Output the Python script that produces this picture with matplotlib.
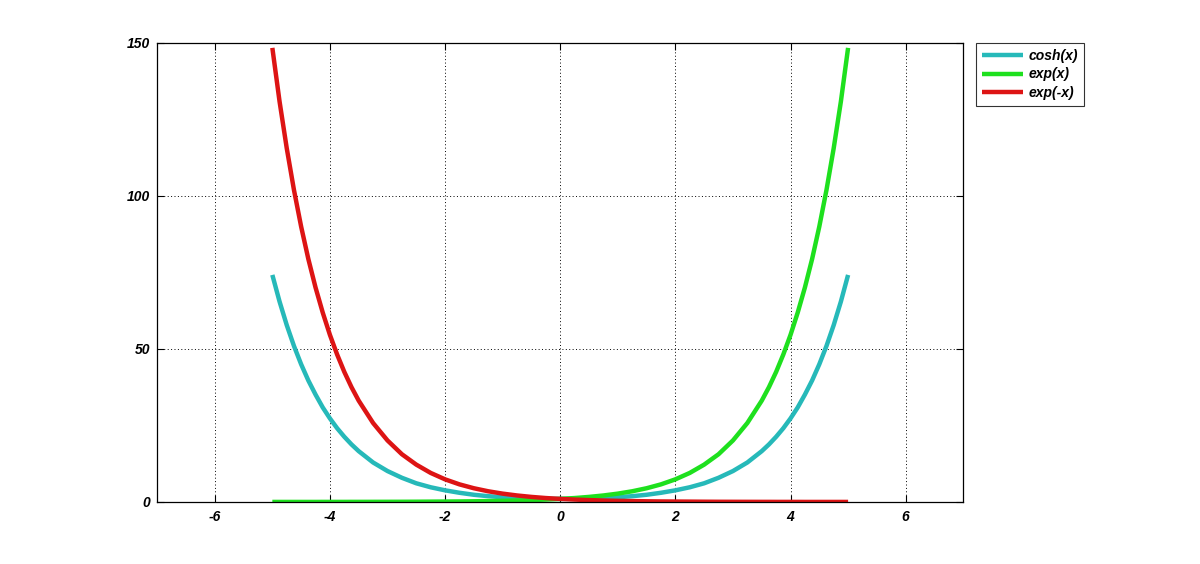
import matplotlib
matplotlib.use("Agg")
import matplotlib.pyplot as plt

# ------------------------------------------------------------- dane
x_vals = [-5.0, -4.875, -4.75, -4.625, -4.5, -4.375, -4.25, -4.125, -4.0, -3.875, -3.75,
          -3.625, -3.5, -3.25, -3.0, -2.75, -2.5,
          -2.25, -2.0, -1.75, -1.5, -1.25, -1.0, -0.75, -0.5, -0.25, 0.0,
          0.25, 0.5, 0.75, 1.0, 1.25, 1.5, 1.75, 2.0, 2.25, 2.5,
          2.75, 3.0, 3.25, 3.5, 3.625, 3.75, 3.875, 4.0, 4.125, 4.25,
          4.375, 4.5, 4.625, 4.75, 4.875, 5.0]

cosh_vals = [74.2, 65.5, 57.8, 51.0, 45.0, 39.7, 35.1, 30.9, 27.3, 24.1, 21.3,
             18.8, 16.6, 12.9, 10.1, 7.9, 6.1,
             4.8, 3.8, 3.0, 2.35, 1.89, 1.54, 1.29, 1.13, 1.03, 1.0,
             1.03, 1.13, 1.29, 1.54, 1.89, 2.35, 3.0, 3.8, 4.8, 6.1,
             7.9, 10.1, 12.9, 16.6, 18.8, 21.3, 24.1, 27.3, 30.9, 35.1,
             39.7, 45.0, 51.0, 57.8, 65.5, 74.2]

exp_vals = [0.01, 0.01, 0.01, 0.01, 0.01, 0.01, 0.01, 0.02, 0.02, 0.02, 0.02,
            0.03, 0.03, 0.04, 0.05, 0.06, 0.08,
            0.11, 0.14, 0.17, 0.22, 0.29, 0.37, 0.47, 0.61, 0.78, 1.0,
            1.28, 1.65, 2.12, 2.72, 3.49, 4.48, 5.75, 7.39, 9.49, 12.2,
            15.6, 20.1, 25.8, 33.1, 37.5, 42.5, 48.2, 54.6, 61.9, 70.1,
            79.4, 90.0, 102.0, 115.6, 130.9, 148.4]

expneg_vals = [148.4, 130.9, 115.6, 102.0, 90.0, 79.4, 70.1, 61.9, 54.6, 48.2, 42.5,
               37.5, 33.1, 25.8, 20.1, 15.6, 12.2,
               9.49, 7.39, 5.75, 4.48, 3.49, 2.72, 2.12, 1.65, 1.28, 1.0,
               0.78, 0.61, 0.47, 0.37, 0.29, 0.22, 0.17, 0.14, 0.11, 0.08,
               0.06, 0.05, 0.04, 0.03, 0.03, 0.02, 0.02, 0.02, 0.02, 0.01,
               0.01, 0.01, 0.01, 0.01, 0.01, 0.01]

labels = ["cosh(x)", "exp(x)", "exp(-x)"]
colors = ["#26B9B9", "#1EE01E", "#DD1414"]

x_ticks = [-6, -4, -2, 0, 2, 4, 6]
y_ticks = [0, 50, 100, 150]

# ------------------------------------------------------------- wykres
plt.rcParams["font.family"] = ["Liberation Sans", "DejaVu Sans"]

fig = plt.figure(figsize=(12, 5.64), dpi=100)
ax = fig.add_axes([0.131, 0.110, 0.6717, 0.8138])

for yv, lab, col in zip([cosh_vals, exp_vals, expneg_vals], labels, colors):
    ax.plot(x_vals, yv, color=col, linewidth=3.2, label=lab, solid_capstyle="butt")

ax.set_xlim(-7, 7)
ax.set_ylim(0, 150)
ax.set_xticks(x_ticks)
ax.set_yticks(y_ticks)
ax.set_xticklabels([str(t) for t in x_ticks], fontsize=10, fontweight="bold", style="italic")
ax.set_yticklabels([str(t) for t in y_ticks], fontsize=10, fontweight="bold", style="italic")
ax.tick_params(direction="in", length=5, width=0.8, top=True, right=True, pad=5)
ax.tick_params(axis="x", pad=6)
ax.grid(True, linestyle=(0, (1, 2.5)), color="black", linewidth=0.7)
for sp in ax.spines.values():
    sp.set_linewidth(0.9)

leg = ax.legend(loc="upper left", bbox_to_anchor=(1.016, 1.0), frameon=True, fancybox=False,
                edgecolor="black", handlelength=2.9, borderaxespad=0, handletextpad=0.4,
                labelspacing=0.3, borderpad=0.45,
                prop={"size": 10, "weight": "bold", "style": "italic"})
leg.get_frame().set_linewidth(0.8)

fig.savefig("out.png", dpi=100)
